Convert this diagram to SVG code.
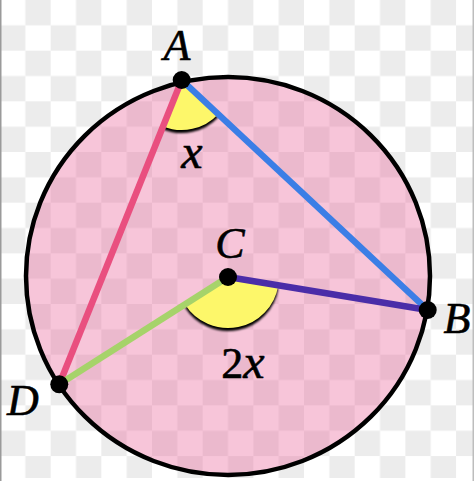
<svg xmlns="http://www.w3.org/2000/svg" width="474" height="481" viewBox="0 0 474 481">
  <style>
    .lbl { font-family: "Liberation Serif", "DejaVu Serif", serif; font-style: italic; font-size: 44px; fill: #000; stroke: #000; stroke-width: 0.6; text-anchor: middle; }
    .var { font-size: 48px; }
    .num { font-style: normal; font-size: 44px; }
    .seg { stroke-width: 6.5; stroke-linecap: butt; fill: none; }
    .dot { fill: #000; }
    .sector { fill: #fdf76a; }
    .shadow { fill: #000; }
  </style>
  <defs>
    <pattern id="checker" patternUnits="userSpaceOnUse" width="50.67" height="50.67">
      <rect x="0" y="0" width="50.67" height="50.67" fill="#ffffff"/>
      <rect x="25.33" y="0" width="25.34" height="25.33" fill="#ececec"/>
      <rect x="0" y="25.33" width="25.33" height="25.34" fill="#ececec"/>
    </pattern>
    <filter id="blur" x="-20%" y="-20%" width="140%" height="140%">
      <feGaussianBlur stdDeviation="0.8"/>
    </filter>
  </defs>

  <rect x="0" y="0" width="474" height="478" fill="url(#checker)"/>
  <rect x="0" y="478" width="474" height="3" fill="#ffffff"/>
  <rect x="0" y="0" width="1.5" height="481" fill="#9a9a9a"/>
  <rect x="472.5" y="0" width="1.5" height="481" fill="#bdbdbd"/>

  <g id="circle">
    <ellipse cx="228" cy="276" rx="202" ry="199" fill="#ec6fa0" fill-opacity="0.4" stroke="#000" stroke-width="4.5"/>
  </g>

  <g id="angle-A">
    <path class="shadow" filter="url(#blur)" transform="translate(0,3)" d="M181.7,80 L218.2,114.2 A50,50 0 0 1 163.1,126.4 Z"/>
    <path class="sector" d="M181.7,80 L218.2,114.2 A50,50 0 0 1 163.1,126.4 Z"/>
  </g>
  <g id="angle-C">
    <path class="shadow" filter="url(#blur)" transform="translate(0,3)" d="M228,277 L278.3,285.4 A51,51 0 0 1 185,304.5 Z"/>
    <path class="sector" d="M228,277 L278.3,285.4 A51,51 0 0 1 185,304.5 Z"/>
  </g>

  <g id="connectors">
    <line class="seg" x1="181.7" y1="80" x2="59.3" y2="384.3" stroke="#e94f7f"/>
    <line class="seg" x1="181.7" y1="80" x2="427.7" y2="310" stroke="#3b7ee6"/>
    <line class="seg" x1="228" y1="277" x2="427.7" y2="310" stroke="#4a2da8"/>
    <line class="seg" x1="228" y1="277" x2="59.3" y2="384.3" stroke="#a6d36a"/>
  </g>

  <g id="node-A">
    <circle class="dot" cx="181.7" cy="80" r="9"/>
    <text class="lbl" x="177" y="60">A</text>
  </g>
  <g id="node-B">
    <circle class="dot" cx="427.7" cy="310" r="9"/>
    <text class="lbl" x="457" y="333">B</text>
  </g>
  <g id="node-C">
    <circle class="dot" cx="228" cy="277" r="9"/>
    <text class="lbl" x="230" y="258">C</text>
  </g>
  <g id="node-D">
    <circle class="dot" cx="59.3" cy="384.3" r="9"/>
    <text class="lbl" x="23" y="415">D</text>
  </g>
  <g id="label-x">
    <text class="lbl var" x="192" y="168">x</text>
  </g>
  <g id="label-2x">
    <text class="lbl" x="243" y="378"><tspan class="num">2</tspan><tspan class="var">x</tspan></text>
  </g>
</svg>
